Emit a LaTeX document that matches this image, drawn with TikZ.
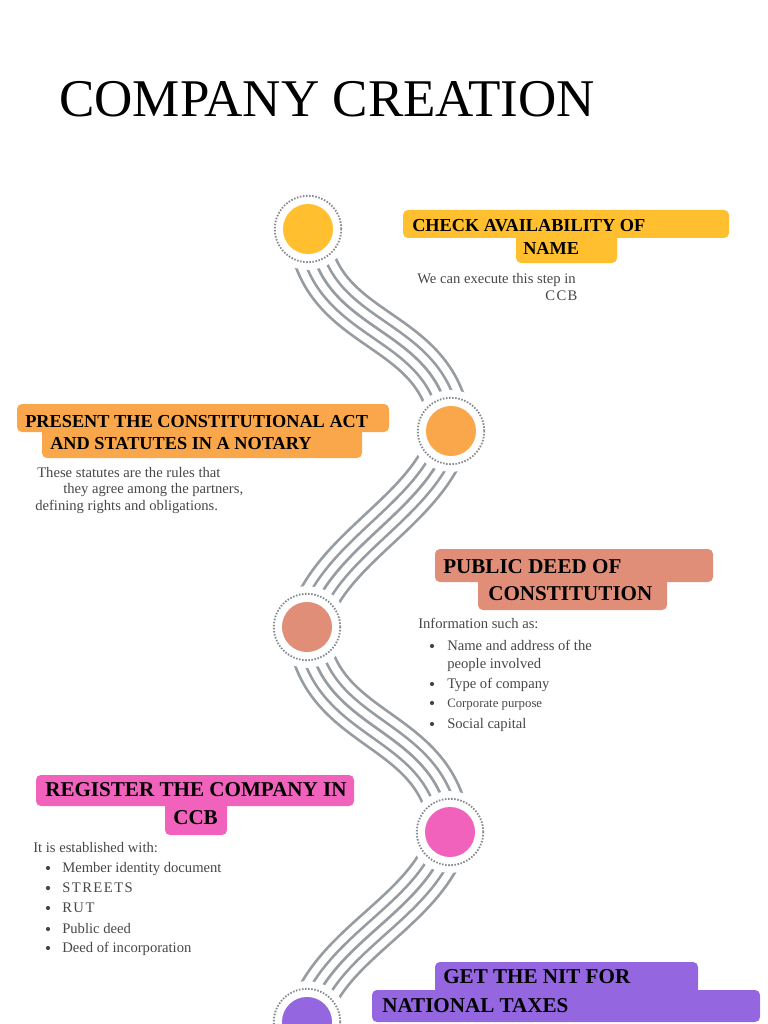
\documentclass[tikz,border=0pt]{standalone}
\usepackage{fontspec}
\setmainfont{Liberation Serif}

\definecolor{cyellow}{HTML}{FFBF2E}
\definecolor{corange}{HTML}{FAA74B}
\definecolor{csalmon}{HTML}{E08E78}
\definecolor{cpink}{HTML}{F062BB}
\definecolor{cpurple}{HTML}{9466E0}
\definecolor{cwire}{HTML}{969CA2}
\definecolor{cring}{HTML}{858B91}
\definecolor{cbody}{HTML}{474747}

\begin{document}
\begin{tikzpicture}[x=0.025cm, y=-0.025cm,
  spot/.style={circle, inner sep=0pt, minimum size=1.25cm},
  ring/.style={circle, draw=cring, line width=1.3pt, dash pattern=on 1.1pt off 1.1pt, inner sep=0pt, minimum size=1.66cm},
  bundle/.style={draw=cwire, line width=30.4pt,
    postaction={draw=white, line width=26.5pt},
    postaction={draw=cwire, line width=16.1pt},
    postaction={draw=white, line width=12.3pt},
    postaction={draw=cwire, line width=1.92pt}},
  headtext/.style={anchor=base west, inner sep=0pt, font=\fontsize{13}{15}\selectfont\bfseries},
  headbig/.style={anchor=base west, inner sep=0pt, font=\fontsize{15}{17}\selectfont\bfseries},
  bodytext/.style={anchor=base west, inner sep=0pt, text=cbody, font=\fontsize{10.4}{12}\selectfont},
  dot/.style={circle, fill=cbody, inner sep=0pt, minimum size=3pt}]

\useasboundingbox (0,0) rectangle (768,1024);

% Title
\node[anchor=base west, inner sep=0pt, font=\fontsize{37.7}{40}\selectfont] (title) at (59,117) {COMPANY CREATION};

% Centres of the steps
\coordinate (p1) at (308,229);
\coordinate (p2) at (451,431);
\coordinate (p3) at (307,627);
\coordinate (p4) at (450,832);
\coordinate (p5) at (307,1022);

% Bundles of five lines between the steps
\foreach \a/\b in {p1/p2, p3/p4}
  \draw[bundle] (\a) .. controls +(10,110) and +(-10,-110) .. (\b);
\foreach \a/\b in {p2/p3, p4/p5}
  \draw[bundle] (\a) .. controls +(-20,80) and +(20,-80) .. (\b);

% Clear round each step, then the dotted ring and the disc
\foreach \p in {1,...,5}
  \fill[white] (p\p) circle [radius=1.02cm];
\foreach \p/\c in {1/cyellow, 2/corange, 3/csalmon, 4/cpink, 5/cpurple} {
  \node[ring] (r\p) at (p\p) {};
  \node[spot, fill=\c] (s\p) at (p\p) {};
}

% Step 1: check availability of name
\fill[cyellow, rounded corners=3.5pt] (403,210) rectangle (729,238);
\fill[cyellow, rounded corners=3.5pt] (516,232) rectangle (617,263);
\node[headtext] (h1a) at (412,232) {CHECK AVAILABILITY OF};
\node[headtext] (h1b) at (523,255) {NAME};
\node[bodytext] (b1a) at (417,283) {We can execute this step in};
\node[bodytext, font=\fontsize{10.4}{12}\selectfont\addfontfeature{LetterSpace=10}] (b1b) at (545,300) {CCB};

% Step 2: constitutional act and statutes
\fill[corange, rounded corners=3.5pt] (17,404) rectangle (389,432);
\fill[corange, rounded corners=3.5pt] (42,426) rectangle (362,458);
\node[headtext] (h2a) at (25,427) {PRESENT THE CONSTITUTIONAL ACT};
\node[headtext] (h2b) at (50,449) {AND STATUTES IN A NOTARY};
\node[bodytext] (b2a) at (37,477) {These statutes are the rules that};
\node[bodytext] (b2b) at (63,493) {they agree among the partners,};
\node[bodytext] (b2c) at (35,510) {defining rights and obligations.};

% Step 3: public deed of constitution
\fill[csalmon, rounded corners=3.5pt] (435,549) rectangle (713,582);
\fill[csalmon, rounded corners=3.5pt] (478,576) rectangle (667,610);
\node[headbig] (h3a) at (443,573) {PUBLIC DEED OF};
\node[headbig] (h3b) at (488,600) {CONSTITUTION};
\node[bodytext] (b3) at (418,628) {Information such as:};
\foreach \yy/\txt in {650/Name and address of the, 688/Type of company, 728/Social capital}
  \node[bodytext] (i3-\yy) at (447,\yy) {\txt};
\node[bodytext] (i3-668) at (447,668) {people involved};
\node[bodytext, font=\fontsize{9.1}{11}\selectfont] (i3-707) at (447,707) {Corporate purpose};
\foreach \yy in {650,688,707,728}
  \node[dot] (d3-\yy) at (432,\yy-4) {};

% Step 4: register the company
\fill[cpink, rounded corners=3.5pt] (36,775) rectangle (354,806);
\fill[cpink, rounded corners=3.5pt] (165,800) rectangle (227,835);
\node[headbig] (h4a) at (45,796) {REGISTER THE COMPANY IN};
\node[headbig] (h4b) at (173,824) {CCB};
\node[bodytext] (b4) at (33,852) {It is established with:};
\foreach \yy/\txt in {872/Member identity document, 933/Public deed, 952/Deed of incorporation}
  \node[bodytext] (i4-\yy) at (62,\yy) {\txt};
\foreach \yy/\txt in {892/STREETS, 912/RUT}
  \node[bodytext, font=\fontsize{10.4}{12}\selectfont\addfontfeature{LetterSpace=10}] (i4-\yy) at (62,\yy) {\txt};
\foreach \yy in {872,892,912,933,952}
  \node[dot] (d4-\yy) at (48,\yy-4) {};

% Step 5: NIT for national taxes
\fill[cpurple, rounded corners=3.5pt] (435,962) rectangle (698,996);
\fill[cpurple, rounded corners=3.5pt] (372,990) rectangle (760,1022);
\node[headbig] (h5a) at (443,983) {GET THE NIT FOR};
\node[headbig] (h5b) at (382,1012) {NATIONAL TAXES};

\end{tikzpicture}
\end{document}
